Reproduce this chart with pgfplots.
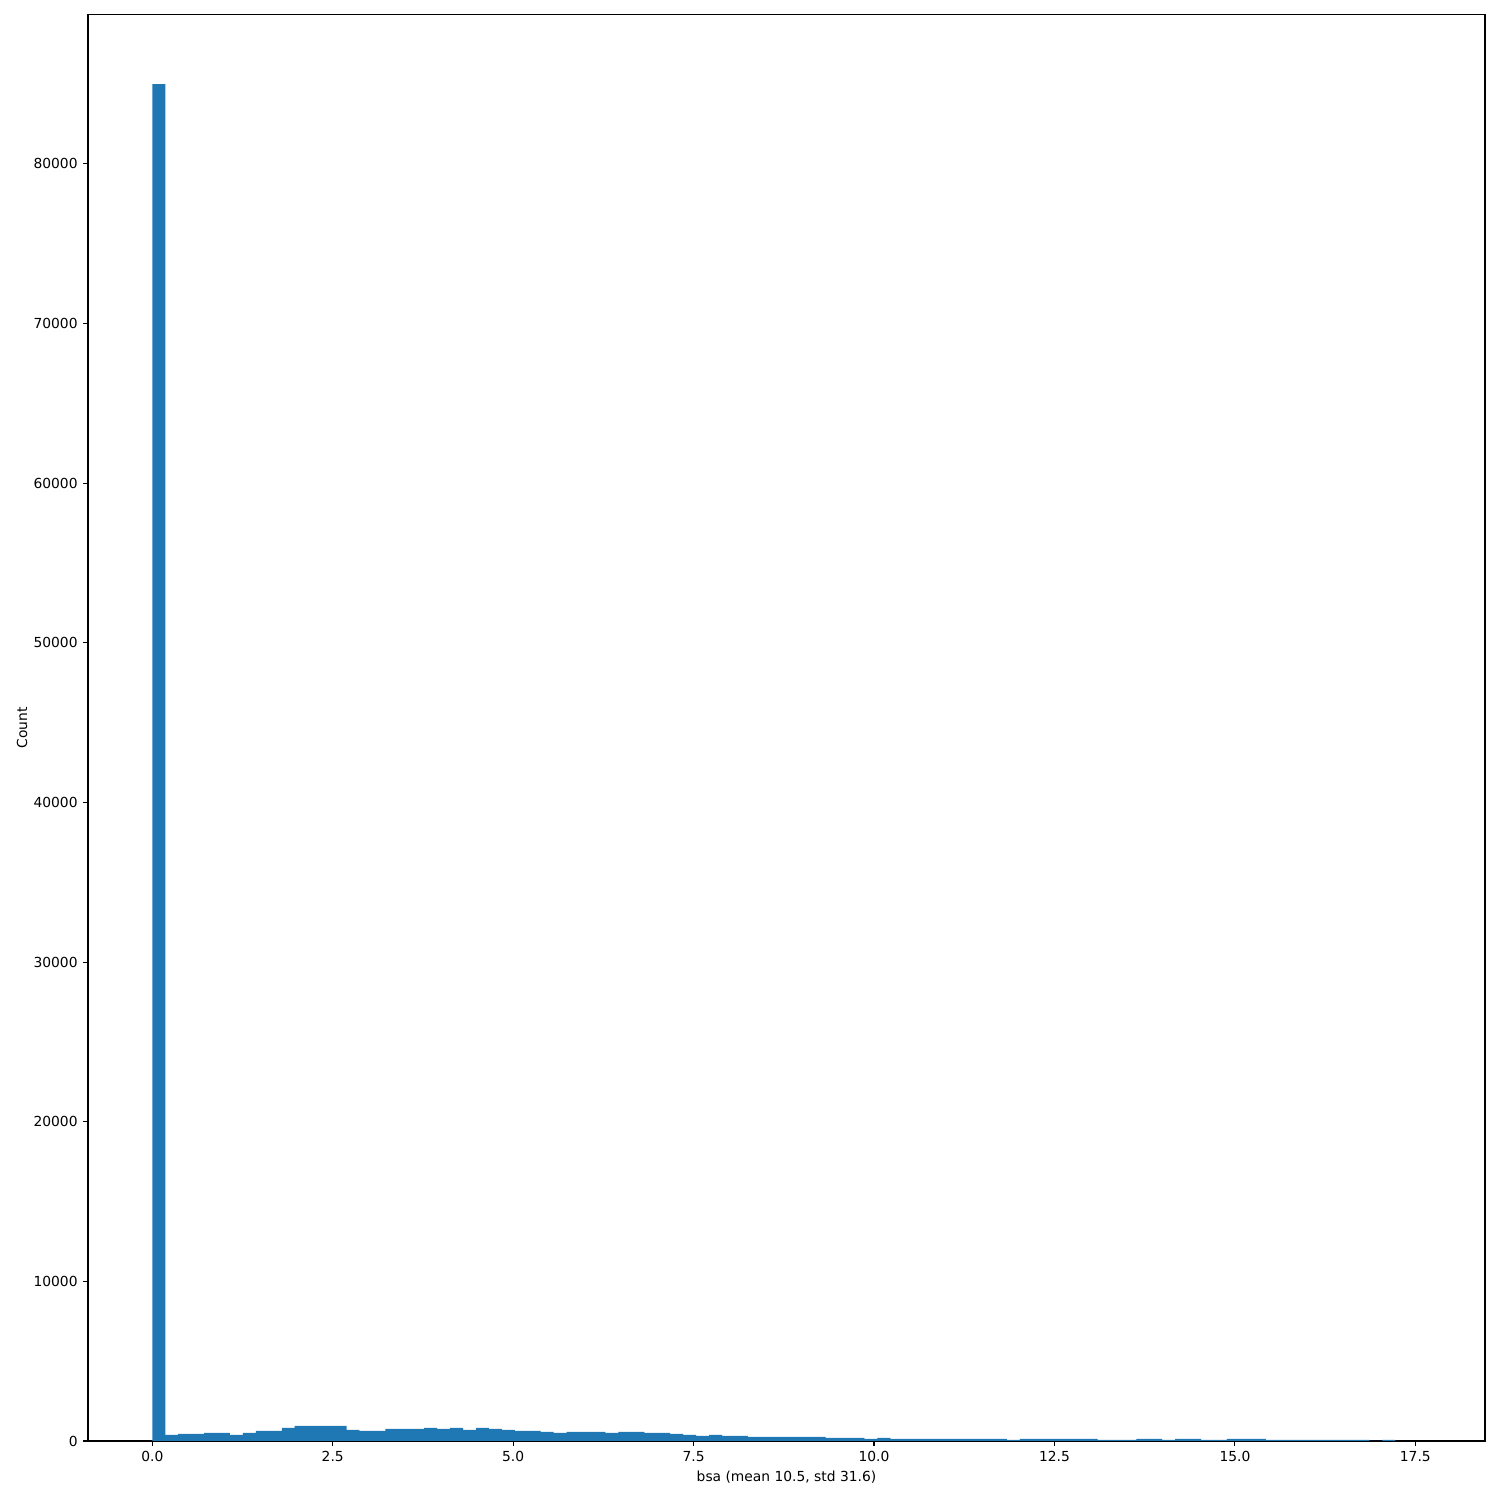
\documentclass[border=0pt]{standalone}
\usepackage{fontspec}
\setmainfont{DejaVu Sans}
\usepackage{pgfplots}
\pgfplotsset{compat=1.18}
\definecolor{tabblue}{HTML}{1F77B4}
\begin{document}
\begin{tikzpicture}[x=1pt,y=1pt]
\path[use as bounding box] (-63.6pt,-42.64pt) rectangle (1020.45pt,1041.4pt);
\begin{axis}[
  at={(0,0)}, anchor=south west,
  scale only axis,
  width=1009.6pt, height=1030.6pt,
  xmin=-0.891, xmax=18.465,
  ymin=0, ymax=89330,
  axis line style={line width=0.8pt},
  every tick/.style={black, line width=0.8pt},
  tick align=outside,
  major tick length=3.5pt,
  xtick pos=bottom, ytick pos=left,
  xtick={0,2.5,5,7.5,10,12.5,15,17.5},
  xticklabels={0.0,2.5,5.0,7.5,10.0,12.5,15.0,17.5},
  ytick={0,10000,20000,30000,40000,50000,60000,70000,80000},
  yticklabels={0,10000,20000,30000,40000,50000,60000,70000,80000},
  scaled y ticks=false,
  tick label style={font=\fontsize{10}{12}\selectfont},
  xticklabel style={yshift=-0.5pt},
  yticklabel style={xshift=-0.5pt},
  xlabel={bsa (mean 10.5, std 31.6)},
  ylabel={Count},
  label style={font=\fontsize{10}{12}\selectfont},
  xlabel style={at={(axis description cs:0.5,0)}, anchor=center, yshift=-26pt},
  ylabel style={at={(axis description cs:0,0.5)}, anchor=center, yshift=47.7pt},
]
\addplot[ybar interval, fill=tabblue, draw=none] table {
x y
0.0000 85000
0.1794 376
0.3588 439
0.5382 439
0.7176 502
0.8970 502
1.0764 376
1.2558 502
1.4352 627
1.6146 627
1.7940 815
1.9734 940
2.1528 940
2.3322 940
2.5116 940
2.6910 690
2.8704 627
3.0498 627
3.2292 752
3.4086 752
3.5880 752
3.7674 815
3.9468 752
4.1262 815
4.3056 690
4.4850 815
4.6644 752
4.8438 690
5.0232 627
5.2026 627
5.3820 564
5.5614 502
5.7408 564
5.9202 564
6.0996 564
6.2790 502
6.4584 564
6.6378 564
6.8172 502
6.9966 502
7.1760 439
7.3554 376
7.5348 313
7.7142 376
7.8936 313
8.0730 313
8.2524 250
8.4318 250
8.6112 250
8.7906 250
8.9700 250
9.1494 250
9.3288 188
9.5082 188
9.6876 188
9.8670 125
10.0464 188
10.2258 125
10.4052 125
10.5846 125
10.7640 125
10.9434 125
11.1228 125
11.3022 125
11.4816 125
11.6610 125
11.8404 63
12.0198 125
12.1992 125
12.3786 125
12.5580 125
12.7374 125
12.9168 125
13.0962 63
13.2756 63
13.4550 63
13.6344 125
13.8138 125
13.9932 63
14.1726 125
14.3520 125
14.5314 63
14.7108 63
14.8902 125
15.0696 125
15.2490 125
15.4284 63
15.6078 63
15.7872 63
15.9666 63
16.1460 63
16.3254 63
16.5048 63
16.6842 63
16.8636 0
17.0430 63
17.2224 0
};
\end{axis}
\end{tikzpicture}
\end{document}
